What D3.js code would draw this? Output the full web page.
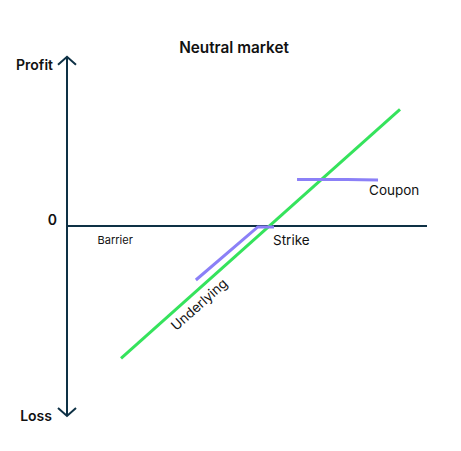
<!DOCTYPE html>
<html>
<head>
<meta charset="utf-8">
<script src="https://cdn.jsdelivr.net/npm/d3@7"></script>
<style>
  body { margin: 0; background: #fff; }
  text { font-family: Inter, "Noto Sans", sans-serif; fill: #111; }
</style>
</head>
<body>
<div id="container"></div>
<script>
/* CONSTANTS AND GLOBALS */
const width = 461;
const height = 451;

// payoff values, x = underlying level, y = profit
const underlying = [[15, -73.6], [92.5, 64.8]];
const product = [[35.8, -30], [53, -0.5], [57.5, -0.5]];
const coupon = [[63.9, 25.8], [77.8, 25.8], [86.4, 25.5]];
const axisX = [0, 100];
const axisY = [-105.5, 94];
const strike = 56.4;
const barrier = 8.5;

const svg = d3.select("#container")
  .append("svg")
    .attr("width", width)
    .attr("height", height);

const xScale = d3.scaleLinear().domain([0, 100]).range([67, 427]);
const yScale = d3.scaleLinear().domain([0, 100]).range([226, 46]);

const line = d3.line().x(d => xScale(d[0])).y(d => yScale(d[1]));

const navy = "#0e3145";

// vertical axis
svg.append("path")
  .attr("d", line([[0, axisY[0]], [0, axisY[1]]]))
  .attr("stroke", navy).attr("stroke-width", 2).attr("fill", "none");

// arrow heads
const x0 = xScale(0);
svg.append("path")
  .attr("d", `M${x0 - 9},${yScale(axisY[1]) + 8} L${x0},${yScale(axisY[1])} L${x0 + 9},${yScale(axisY[1]) + 8}`)
  .attr("stroke", navy).attr("stroke-width", 2).attr("fill", "none");
svg.append("path")
  .attr("d", `M${x0 - 9},${yScale(axisY[0]) - 8} L${x0},${yScale(axisY[0])} L${x0 + 9},${yScale(axisY[0]) - 8}`)
  .attr("stroke", navy).attr("stroke-width", 2).attr("fill", "none");

// zero line
svg.append("path")
  .attr("d", line([[axisX[0], 0], [axisX[1], 0]]))
  .attr("stroke", navy).attr("stroke-width", 2).attr("fill", "none");

// underlying
svg.append("path")
  .attr("d", line(underlying))
  .attr("stroke", "#35e35c").attr("stroke-width", 3).attr("fill", "none");

// product payoff
svg.append("path")
  .attr("d", line(product))
  .attr("stroke", "#8b80f7").attr("stroke-width", 3).attr("fill", "none");
svg.append("path")
  .attr("d", line(coupon))
  .attr("stroke", "#8b80f7").attr("stroke-width", 3).attr("fill", "none");

// labels
svg.append("text")
  .attr("x", 234).attr("y", 53)
  .attr("text-anchor", "middle")
  .attr("font-size", 15.3).attr("font-weight", 600)
  .text("Neutral market");

svg.append("text")
  .attr("x", 53).attr("y", yScale(axisY[1]) + 13)
  .attr("text-anchor", "end")
  .attr("font-size", 14).attr("font-weight", 600)
  .text("Profit");

svg.append("text")
  .attr("x", 52).attr("y", yScale(axisY[0]) + 5)
  .attr("text-anchor", "end")
  .attr("font-size", 14).attr("font-weight", 600)
  .text("Loss");

svg.append("text")
  .attr("x", 57).attr("y", yScale(0) - 1)
  .attr("text-anchor", "end")
  .attr("font-size", 14).attr("font-weight", 600)
  .text("0");

svg.append("text")
  .attr("x", xScale(barrier)).attr("y", yScale(0) + 18)
  .attr("font-size", 11)
  .text("Barrier");

svg.append("text")
  .attr("x", xScale(strike) + 3).attr("y", yScale(0) + 19)
  .attr("font-size", 13.5)
  .text("Strike");

svg.append("text")
  .attr("x", xScale(coupon[2][0]) - 9).attr("y", yScale(coupon[2][1]) + 15)
  .attr("font-size", 13.5)
  .text("Coupon");

const angle = Math.atan2(yScale(underlying[1][1]) - yScale(underlying[0][1]),
                         xScale(underlying[1][0]) - xScale(underlying[0][0])) * 180 / Math.PI;
svg.append("text")
  .attr("transform", `translate(${xScale(37.6)},${yScale(-45.5)}) rotate(${angle})`)
  .attr("text-anchor", "middle")
  .attr("font-size", 13.5)
  .text("Underlying");
</script>
</body>
</html>
